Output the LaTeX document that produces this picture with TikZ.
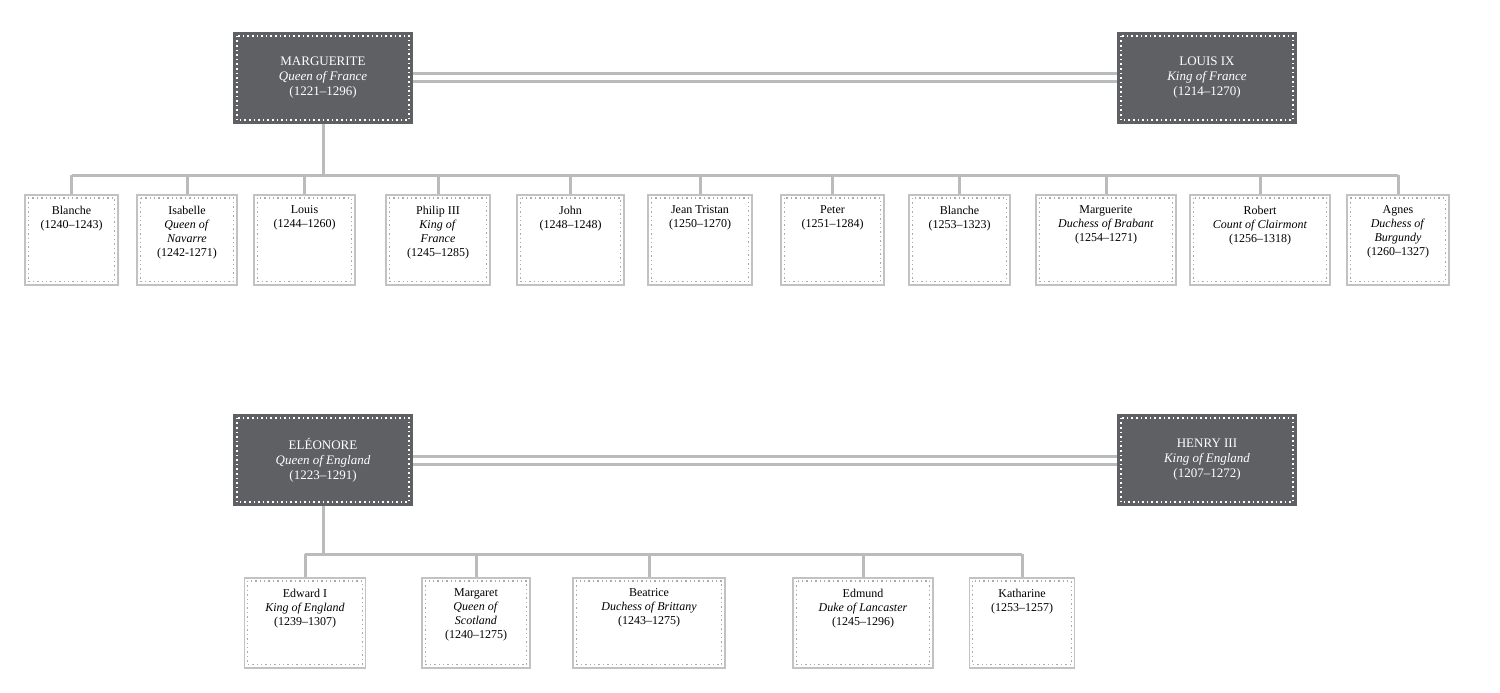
\documentclass[tikz,border=0pt]{standalone}
\usepackage{fontspec}
\setmainfont{Liberation Serif}
\usetikzlibrary{positioning}
\definecolor{royal}{HTML}{5E6063}
\definecolor{lineg}{HTML}{BABBBC}
\definecolor{boxg}{HTML}{C2C2C3}
\definecolor{dotg}{HTML}{ABABAC}
\tikzstyle{parentNode} = [rectangle, fill=royal, text=white, minimum width=180pt, minimum height=92pt, align=center, inner sep=0pt, font=\fontsize{13}{15}\selectfont]
\tikzstyle{childNode} = [rectangle, draw=boxg, line width=1.5pt, anchor=north, inner sep=5pt, font=\fontsize{12}{14}\selectfont]
\tikzstyle{link} = [draw=lineg, line width=3pt]
\tikzstyle{marriage} = [draw=lineg, line width=3pt, double=white, double distance=5pt]
\newcommand{\kid}[2]{\parbox[t][80pt][t]{#1}{\centering\vspace{6pt}#2}}

\begin{document}
\begin{tikzpicture}[x=1pt,y=-1pt]
        \useasboundingbox (0,0) rectangle (1500,693);
        % parents
        \node (marg) [parentNode] at (323,78) {MARGUERITE\\\textit{Queen of France}\\(1221–1296)};
        \node (louis) [parentNode] at (1207,78) {LOUIS IX\\\textit{King of France}\\(1214–1270)};
        \node (eleo) [parentNode] at (323,460) {ELÉONORE\\\textit{Queen of England}\\(1223–1291)};
        \node (henry) [parentNode] at (1207,460) {HENRY III\\\textit{King of England}\\(1207–1272)};
        \foreach \p in {marg,louis,eleo,henry}
            \draw [white, line width=1.6pt, dash pattern=on 1.6pt off 3pt]
                ([xshift=4pt,yshift=-4pt]\p.north west) rectangle ([xshift=-4pt,yshift=4pt]\p.south east);
        \draw [marriage] (marg.east) -- (louis.west);
        \draw [marriage] (eleo.east) -- (henry.west);

        % children of Marguerite and Louis
        \foreach \n/\x/\w/\t in {
            a1/71.5/83/{Blanche\\(1240–1243)},
            a2/187/90/{Isabelle\\\textit{Queen of}\\\textit{Navarre}\\(1242-1271)},
            a3/304.5/91/{Louis\\(1244–1260)},
            a4/438/94/{Philip III\\\textit{King of}\\\textit{France}\\(1245–1285)},
            a5/570.5/97/{John\\(1248–1248)},
            a6/700/94/{Jean Tristan\\(1250–1270)},
            a7/832.5/93/{Peter\\(1251–1284)},
            a8/959.5/91/{Blanche\\(1253–1323)},
            a9/1106/130/{Marguerite\\\textit{Duchess of Brabant}\\(1254–1271)},
            a10/1260/130/{Robert\\\textit{Count of Clairmont}\\(1256–1318)},
            a11/1398/92/{Agnes\\\textit{Duchess of}\\\textit{Burgundy}\\(1260–1327)}}
            \node (\n) [childNode] at (\x,194) {\kid{\w pt}{\t}};
        \coordinate (barA) at (318,175);
        \draw [link] (marg.south) -- (marg.south |- barA);
        \draw [link] (a1.north |- barA) -- (a11.north |- barA);
        \foreach \n in {a1,a2,a3,a4,a5,a6,a7,a8,a9,a10,a11}
            \draw [link] (\n.north |- barA) -- (\n.north);

        % children of Eleonore and Henry
        \foreach \n/\x/\w/\t in {
            b1/305/111/{Edward I\\\textit{King of England}\\(1239–1307)},
            b2/476/98/{Margaret\\\textit{Queen of}\\\textit{Scotland}\\(1240–1275)},
            b3/649/142/{Beatrice\\\textit{Duchess of Brittany}\\(1243–1275)},
            b4/863/130/{Edmund\\\textit{Duke of Lancaster}\\(1245–1296)},
            b5/1022/95/{Katharine\\(1253–1257)}}
            \node (\n) [childNode] at (\x,577) {\kid{\w pt}{\t}};
        \coordinate (barB) at (318,554);
        \draw [link] (eleo.south) -- (eleo.south |- barB);
        \draw [link] (b1.north |- barB) -- (b5.north |- barB);
        \foreach \n in {b1,b2,b3,b4,b5}
            \draw [link] (\n.north |- barB) -- (\n.north);

        % dotted inner borders of the children
        \foreach \n in {a1,a2,a3,a4,a5,a6,a7,a8,a9,a10,a11,b1,b2,b3,b4,b5}
            \draw [dotg, line width=1.4pt, dash pattern=on 1.4pt off 3pt]
                ([xshift=4pt,yshift=-4pt]\n.north west) rectangle ([xshift=-4pt,yshift=4pt]\n.south east);
    \end{tikzpicture}
\end{document}
